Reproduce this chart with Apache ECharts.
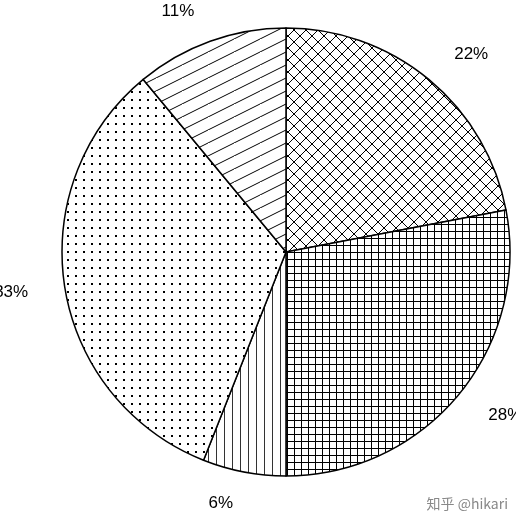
<!DOCTYPE html>
<html>
<head>
<meta charset="utf-8">
<script src="https://cdn.jsdelivr.net/npm/echarts@6/dist/echarts.min.js"></script>
<style>html,body{margin:0;padding:0;background:#fff}#c{width:516px;height:519px}</style>
</head>
<body>
<div id="c"></div>
<script>
// slice values, clockwise from the top
var names = ['A', 'B', 'C', 'D', 'E'];
var values = [22, 28, 6, 33, 11];
var labels = ['22%', '28%', '6%', '33%', '11%'];

function tile(w, h, draw) {
  var cv = document.createElement('canvas');
  cv.width = w; cv.height = h;
  var ctx = cv.getContext('2d');
  ctx.fillStyle = '#fff';
  ctx.fillRect(0, 0, w, h);
  ctx.strokeStyle = '#000';
  ctx.fillStyle = '#000';
  ctx.lineWidth = 1;
  draw(ctx, w, h);
  return { image: cv, repeat: 'repeat' };
}

var patterns = [
  // diagonal crosshatch
  tile(12, 12, function (ctx, w, h) {
    ctx.beginPath();
    ctx.moveTo(0, 0); ctx.lineTo(w, h);
    ctx.moveTo(w, 0); ctx.lineTo(0, h);
    ctx.stroke();
  }),
  // square grid
  tile(7, 7, function (ctx, w, h) {
    ctx.beginPath();
    ctx.moveTo(0, 0.5); ctx.lineTo(w, 0.5);
    ctx.moveTo(0.5, 0); ctx.lineTo(0.5, h);
    ctx.stroke();
  }),
  // vertical lines
  tile(8, 8, function (ctx, w, h) {
    ctx.strokeStyle = '#333';
    ctx.beginPath();
    ctx.moveTo(0.5, 0); ctx.lineTo(0.5, h);
    ctx.stroke();
  }),
  // dots
  tile(8, 8, function (ctx) {
    ctx.fillRect(3, 3, 2, 2);
  }),
  // shallow diagonal lines
  tile(26, 13, function (ctx, w, h) {
    ctx.beginPath();
    ctx.moveTo(0, h); ctx.lineTo(w, 0);
    ctx.moveTo(-w, h); ctx.lineTo(0, 0);
    ctx.moveTo(0, 2 * h); ctx.lineTo(w * 2, 0);
    ctx.stroke();
  })
];

var chart = echarts.init(document.getElementById('c'));
chart.setOption({
  animation: false,
  graphic: [{
    type: 'text', right: 8, bottom: 8,
    style: { text: '知乎 @hikari', fill: '#888', font: '14px "Noto Sans CJK SC", sans-serif' }
  }],
  series: [{
    type: 'pie',
    center: [286, 252],
    radius: 224,
    startAngle: 90,
    clockwise: true,
    data: values.map(function (v, i) {
      return { name: names[i], value: v, itemStyle: { color: patterns[i] } };
    }),
    itemStyle: { borderColor: '#000', borderWidth: 1.5 },
    label: {
      position: 'outside',
      formatter: function (p) { return labels[p.dataIndex]; },
      color: '#000',
      fontSize: 17,
      overflow: 'none',
      fontFamily: 'Liberation Sans, Arial, sans-serif'
    },
    labelLine: { show: false, length: 32, length2: 0 },
    emphasis: { disabled: true }
  }]
});
</script>
</body>
</html>
